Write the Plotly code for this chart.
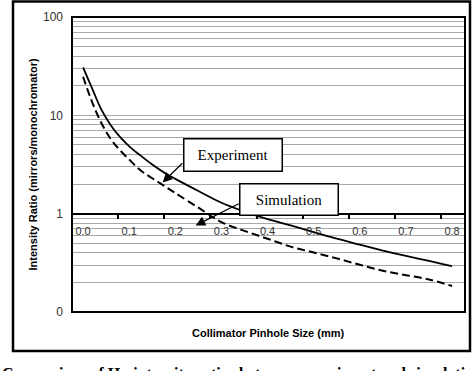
import plotly.graph_objects as go

# Data
pinhole_mm = [0.0, 0.02, 0.04, 0.06, 0.08, 0.10, 0.125, 0.15, 0.175, 0.20, 0.25,
              0.30, 0.35, 0.40, 0.45, 0.50, 0.55, 0.60, 0.65, 0.70, 0.75, 0.80]
experiment = [30.8, 18.6, 11.35, 7.94, 6.03, 4.84, 3.89, 3.16, 2.63, 2.26, 1.70,
              1.29, 1.05, 0.88, 0.76, 0.65, 0.556, 0.484, 0.422, 0.372, 0.331, 0.292]
simulation = [24.7, 13.5, 8.3, 5.75, 4.42, 3.55, 2.75, 2.29, 1.93, 1.62, 1.15,
              0.82, 0.668, 0.556, 0.462, 0.403, 0.351, 0.302, 0.263, 0.237, 0.214, 0.184]

x_tick_vals = [0.0, 0.1, 0.2, 0.3, 0.4, 0.5, 0.6, 0.7, 0.8]
x_tick_text = ["0.0", "0.1", "0.2", "0.3", "0.4", "0.5", "0.6", "0.7", "0.8"]
x_tick_marks = [0.076, 0.176, 0.276, 0.376, 0.476, 0.576, 0.676, 0.776]
y_tick_vals = [0.1, 1, 10, 100]
y_tick_text = ["0", "1", "10", "100"]
y_minor_vals = [m * d for d in (0.1, 1, 10) for m in range(2, 10)]

SANS = "Liberation Sans, Arial, sans-serif"
SERIF = "Liberation Serif, Times New Roman, serif"

fig = go.Figure()
fig.add_trace(go.Scatter(x=pinhole_mm, y=experiment, mode="lines", name="Experiment",
                         line=dict(color="black", width=1.8, shape="spline")))
fig.add_trace(go.Scatter(x=pinhole_mm, y=simulation, mode="lines", name="Simulation",
                         line=dict(color="black", width=2, dash="8px,4px", shape="spline")))

W, H = 474, 371
L, R, T, B = 72, 9, 17, 59
pw, ph = W - L - R, H - T - B

def px(xp):
    return (xp - L) / pw

def py(yp):
    return (H - B - yp) / ph

fig.update_layout(
    width=W, height=H,
    margin=dict(l=L, r=R, t=T, b=B, autoexpand=False),
    paper_bgcolor="white", plot_bgcolor="white",
    showlegend=False,
    xaxis=dict(range=[-0.024, 0.828], anchor="free", position=1/3,
               tickvals=x_tick_vals, ticktext=x_tick_text, ticks="",
               ticklabelstandoff=7,
               tickfont=dict(family=SANS, size=11, color="#333333"),
               showgrid=False, zeroline=False,
               showline=True, linecolor="black", linewidth=2,
               minor=dict(tickvals=x_tick_marks, ticks="outside", ticklen=4,
                          tickwidth=1.5, tickcolor="black", showgrid=False),
               automargin=False),
    yaxis=dict(type="log", range=[-1, 2],
               tickvals=y_tick_vals, ticktext=y_tick_text, ticks="",
               ticklabelstandoff=8,
               tickfont=dict(family=SANS, size=12, color="#333333"),
               showgrid=True, gridcolor="#a8a8a8", gridwidth=1.2,
               minor=dict(tickvals=y_minor_vals, showgrid=True,
                          gridcolor="#a8a8a8", gridwidth=1.2, ticks=""),
               zeroline=False, showline=False, automargin=False),
)

# plot area border and outer frame
fig.add_shape(type="rect", xref="paper", yref="paper", x0=0, x1=1, y0=0, y1=1,
              line=dict(color="black", width=2), layer="above")
fig.add_shape(type="rect", xref="paper", yref="paper",
              x0=px(13), x1=px(470), y0=py(351), y1=py(1.5),
              line=dict(color="black", width=2.5), layer="above")

# axis titles
fig.add_annotation(text="<b>Collimator Pinhole Size (mm)</b>", xref="paper", yref="paper",
                   x=0.5, y=py(333), xanchor="center", yanchor="middle", showarrow=False,
                   font=dict(family=SANS, size=11, color="black"))
fig.add_annotation(text="<b>Intensity Ratio (mirrors/monochromator)</b>", xref="paper", yref="paper",
                   x=px(32), y=0.5, xanchor="center", yanchor="middle", textangle=-90,
                   showarrow=False, font=dict(family=SANS, size=11, color="black"))

# arrows
fig.add_annotation(x=0.1725, y=0.317, ax=0.2184, ay=0.528, axref="x", ayref="y",
                   xref="x", yref="y", text="", showarrow=True,
                   arrowhead=2, arrowsize=1.6, arrowwidth=1.2, arrowcolor="black")
fig.add_annotation(x=0.244, y=-0.120, ax=0.3406, ay=0.108, axref="x", ayref="y",
                   xref="x", yref="y", text="", showarrow=True,
                   arrowhead=2, arrowsize=1.6, arrowwidth=1.2, arrowcolor="black")

# boxed labels
fig.add_annotation(x=0.3254, y=0.5966, xref="x", yref="y", text="Experiment",
                   showarrow=False, width=97, height=31, borderpad=0,
                   bgcolor="white", bordercolor="black", borderwidth=1.5,
                   font=dict(family=SERIF, size=15, color="black"))
fig.add_annotation(x=0.4469, y=0.146, xref="x", yref="y", text="Simulation",
                   showarrow=False, width=97, height=30, borderpad=0,
                   bgcolor="white", bordercolor="black", borderwidth=1.5,
                   font=dict(family=SERIF, size=15, color="black"))

# caption (cut off at bottom in the reference)
fig.add_annotation(text="<b>Comparison of Hα intensity ratios between experiment and simulation for the Schöld lines</b>",
                   xref="paper", yref="paper", x=px(0), y=py(363), xanchor="left", yanchor="top",
                   showarrow=False, font=dict(family=SERIF, size=16, color="black"))

fig.write_html("out.html", config={"displayModeBar": False},
               post_script="document.body.style.margin='0px';document.body.style.overflow='hidden';")
